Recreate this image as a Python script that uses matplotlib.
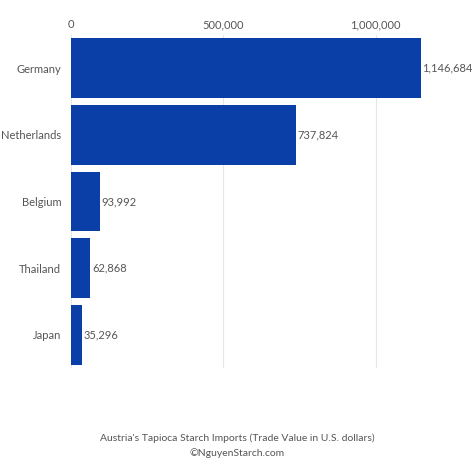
import matplotlib.pyplot as plt
from matplotlib.ticker import FuncFormatter

# Data
countries = ["Germany", "Netherlands", "Belgium", "Thailand", "Japan"]
values = [1146684, 737824, 93992, 62868, 35296]
tick_values = [0, 500000, 1000000]

BAR_COLOUR = "#0a3fa8"
TEXT_COLOUR = "#555555"

plt.rcParams["font.family"] = ["Lato", "DejaVu Sans"]

fig = plt.figure(figsize=(4.74, 4.74), dpi=100)
ax = fig.add_axes([71 / 474, 1 - 368 / 474, 381 / 474, 333 / 474])

ax.barh(countries, values, height=0.9, color=BAR_COLOUR, zorder=3)
for i, v in enumerate(values):
    ax.text(v + 6000, i, f"{v:,}", va="center", ha="left", fontsize=8, color=TEXT_COLOUR)

ax.set_ylim(4.5, -0.5)
ax.set_xlim(0, 1250000)
ax.set_xticks(tick_values)
ax.xaxis.set_major_formatter(FuncFormatter(lambda x, p: f"{int(x):,}"))
ax.xaxis.tick_top()
ax.tick_params(axis="both", length=0, labelsize=8, labelcolor=TEXT_COLOUR)
ax.tick_params(axis="y", pad=7)
ax.grid(axis="x", color="#e6e6e6", linewidth=0.8, zorder=0)
for s in ax.spines.values():
    s.set_visible(False)

fig.text(0.5, 1 - 438 / 474, "Austria's Tapioca Starch Imports (Trade Value in U.S. dollars)",
         ha="center", va="center", fontsize=7.5, color=TEXT_COLOUR)
fig.text(0.5, 1 - 453 / 474, "©NguyenStarch.com", ha="center", va="center",
         fontsize=7.5, color=TEXT_COLOUR)

fig.savefig("out.png", dpi=100)
